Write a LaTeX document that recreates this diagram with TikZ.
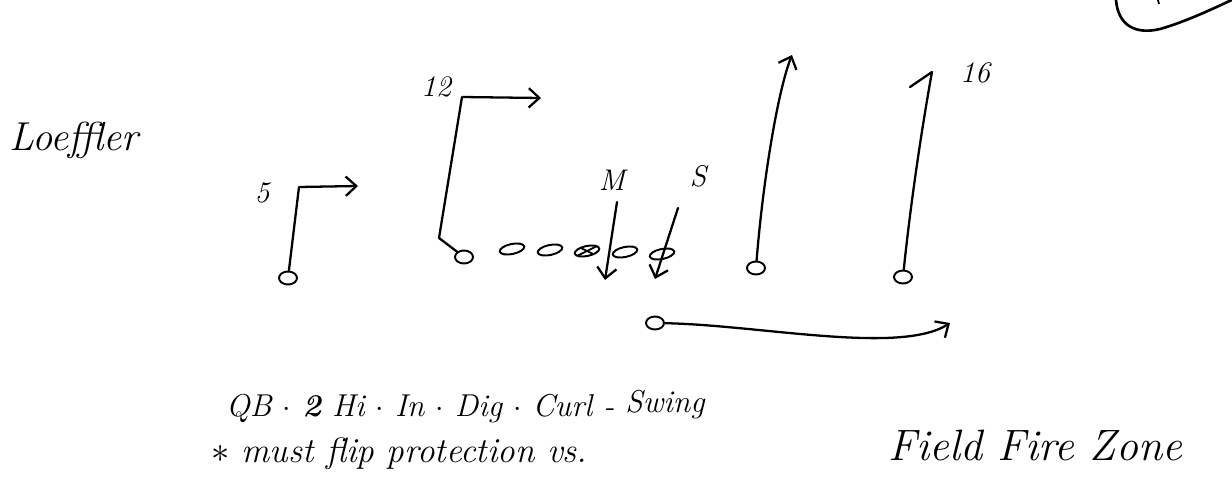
\documentclass[tikz,border=0pt]{standalone}
\usetikzlibrary{shapes.geometric,arrows.meta}
\tikzset{
  player/.style={draw, ellipse, line width=1.1pt, minimum width=0.36cm, minimum height=0.26cm, inner sep=0pt},
  lineman/.style={player, minimum width=0.5cm, minimum height=0.2cm, rotate=12},
  stem/.style={line width=1.3pt, line join=round, line cap=round},
  route/.style={stem, -{Straight Barb[length=6pt,width=11pt,line width=1.3pt]}},
  lbl/.style={font=\itshape\fontsize{17}{19}\selectfont},
  note/.style={anchor=base west, font=\itshape\fontsize{18}{22}\selectfont},
}
\begin{document}
\begin{tikzpicture}[x=0.02cm, y=-0.02cm]
  \useasboundingbox (0,0) rectangle (1232,497);
  \node[font=\itshape\fontsize{23}{26}\selectfont] (T) at (74,140) {Loeffler};
  % players
  \node[player] (A) at (288,278) {};
  \node[player] (B) at (464,257) {};
  \node[lineman] (C1) at (512,249) {};
  \node[lineman] (C2) at (550,250) {};
  \node[lineman, path picture={\draw[line width=1pt] (path picture bounding box.south west) -- (path picture bounding box.north east) (path picture bounding box.north west) -- (path picture bounding box.south east);}] (C3) at (587,251) {};
  \node[lineman] (C4) at (625,252) {};
  \node[lineman] (C5) at (662,254) {};
  \node[player] (D) at (756,268) {};
  \node[player] (E) at (903,277) {};
  \node[player] (F) at (655,323) {};
  % labels
  \node[lbl] (L5) at (262,193) {5};
  \node[lbl] (L12) at (436,87) {12};
  \node[lbl] (LM) at (612,180) {M};
  \node[lbl] (LS) at (698,176) {S};
  \node[lbl] (L16) at (975,73) {16};
  % routes
  \coordinate (A1) at (299,187);
  \coordinate (A2) at (358,186);
  \draw[route] (A) -- (A1) -- (A2);
  \coordinate (B1) at (439,238);
  \coordinate (B2) at (462,97);
  \coordinate (B3) at (541,98);
  \draw[route] (B) -- (B1) -- (B2) -- (B3);
  \coordinate (M1) at (617,202);
  \coordinate (M2) at (605,280);
  \draw[route] (M1) -- (M2);
  \coordinate (S1) at (678,208);
  \coordinate (S2) at (655,279);
  \draw[route] (S1) -- (S2);
  \coordinate (D1) at (792,55);
  \draw[route] (D) .. controls (763,180) and (778,90) .. (D1);
  \coordinate (E1) at (932,72);
  \coordinate (E2) at (910,87);
  \draw[stem] (E) .. controls (912,190) and (925,110) .. (E1) -- (E2);
  \coordinate (F1) at (950,323);
  \draw[route] (F) .. controls (760,325) and (900,355) .. (F1);
  % corner mark
  \draw[line width=1.5pt] (1116,0) .. controls (1118,25) and (1135,35) .. (1160,29) .. controls (1185,22) and (1215,8) .. (1240,-4);
  \draw[line width=1pt] (1158,0) -- (1159,4);
  % notes
  \node[note] (N1) at (220,416) {QB $\cdot$ \textbf{2} Hi $\cdot$ In $\cdot$ Dig $\cdot$ Curl - \raisebox{2pt}{Swing}};
  \node[note, font=\itshape\fontsize{20}{24}\selectfont] (N2) at (205,462) {$\ast$ must flip protection vs.};
  \node[note, font=\itshape\fontsize{25}{28}\selectfont] (N3) at (882,460) {Field Fire Zone};
\end{tikzpicture}
\end{document}
